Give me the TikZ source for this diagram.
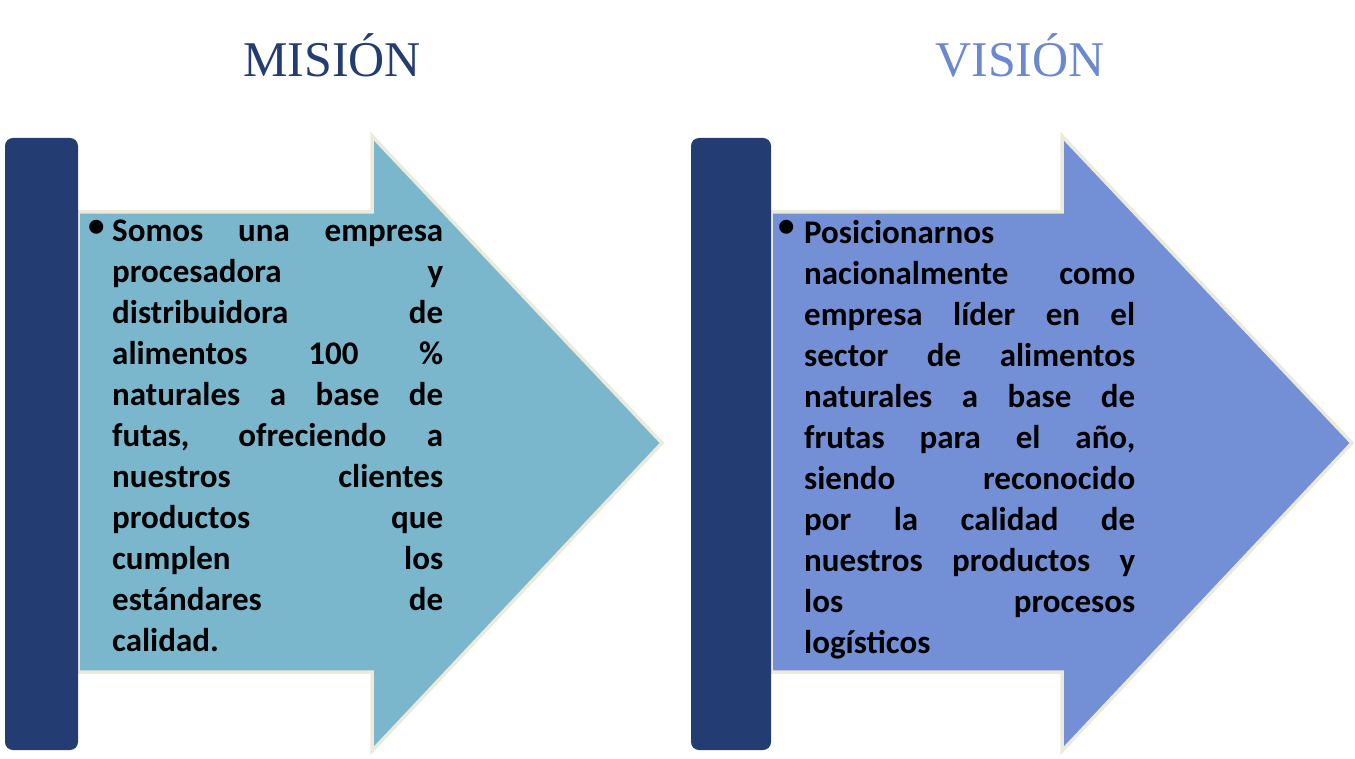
\documentclass[tikz,border=0pt]{standalone}
\usepackage{fontspec}
\setmainfont{Liberation Serif}
\newfontfamily\bodyfont{Carlito}
\definecolor{navy}{HTML}{233D73}
\definecolor{teal1}{HTML}{7AB6CC}
\definecolor{blue1}{HTML}{7390D6}
\definecolor{vis}{HTML}{6A89D0}
\definecolor{cream}{HTML}{EEEADB}
\tikzset{
 bar/.style={fill=navy,draw=none,rounded corners=8pt},
 arr/.style={draw=cream,line width=3.5pt,line join=miter},
 title/.style={font=\fontsize{50}{56}\selectfont,anchor=base},
 body/.style={font=\bodyfont\bfseries\fontsize{33}{41}\selectfont,text width=331pt,align=justify,inner sep=0pt,anchor=north west},
 bul/.style={font=\bodyfont\bfseries\fontsize{33}{41}\selectfont,inner sep=0pt,anchor=north west}
}
\begin{document}
\begin{tikzpicture}[x=1pt,y=-1pt]
\useasboundingbox (0,0) rectangle (1355,759);
\node[title,text=navy] (t1) at (332,77) {MISIÓN};
\node[title,text=vis] (t2) at (1020,77) {VISIÓN};
\draw[arr,fill=teal1] (78,212) -- (372,212) -- (372,136) -- (662,443) -- (372,751) -- (372,672) -- (78,672) -- cycle;
\draw[arr,fill=blue1] (771,212) -- (1062,212) -- (1062,136) -- (1352,443) -- (1062,751) -- (1062,672) -- (771,672) -- cycle;
\fill[bar] (5,138) rectangle (78,750);
\fill[bar] (691,138) rectangle (771,750);
\node[bul] (b1) at (88,220) {•};
\node[bul] (b2) at (778,220) {•};
\node[body] (m) at (112,220) {\hyphenpenalty=10000\hbadness=10000
Somos una empresa\linebreak procesadora y\linebreak distribuidora de\linebreak alimentos 100 \%\linebreak naturales a base de\linebreak futas, ofreciendo a\linebreak nuestros clientes\linebreak productos que\linebreak cumplen los\linebreak estándares de\linebreak calidad.};
\node[body] (v) at (804,220) {\hyphenpenalty=10000\hbadness=10000
Posicionarnos\hfill\linebreak nacionalmente como\linebreak empresa líder en el\linebreak sector de alimentos\linebreak naturales a base de\linebreak frutas para el año,\linebreak siendo reconocido\linebreak por la calidad de\linebreak nuestros productos y\linebreak los procesos\linebreak logísticos};
\end{tikzpicture}
\end{document}
